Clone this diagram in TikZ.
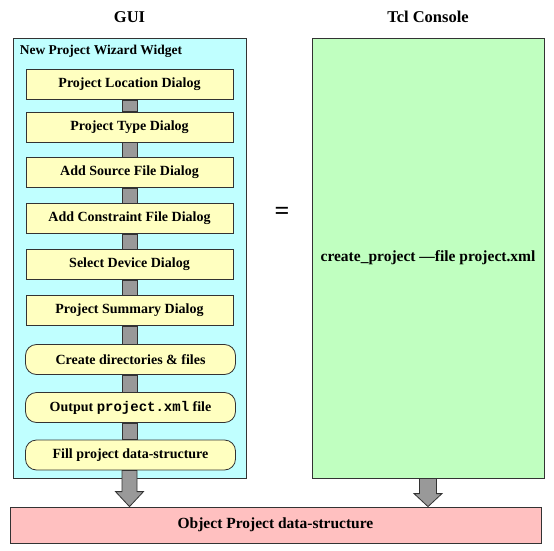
\documentclass[tikz,border=0pt]{standalone}
\usepackage{fontspec}
\setmainfont{Liberation Serif}
\setmonofont{Liberation Mono}
\usetikzlibrary{calc}

\definecolor{wizard}{HTML}{C0FFFF}
\definecolor{console}{HTML}{C0FFC0}
\definecolor{dialogfill}{HTML}{FFFFC0}
\definecolor{objfill}{HTML}{FFC0C0}
\definecolor{barfill}{HTML}{999999}

\begin{document}
\begin{tikzpicture}[x=1pt, y=-1pt,
	frame/.style={draw=black!80, line width=0.8pt, inner sep=0pt},
	dialog/.style={frame, fill=dialogfill, minimum width=207pt, minimum height=30pt, font=\bfseries\fontsize{14}{16}\selectfont},
	action/.style={dialog, rounded corners=11pt, minimum width=210pt},
	link/.style={draw=black!80, line width=0.8pt, fill=barfill},
	title/.style={font=\bfseries\fontsize{16.5}{18}\selectfont},
	label/.style={font=\bfseries\fontsize{15.5}{18}\selectfont}]
	\useasboundingbox (0,0) rectangle (554,551);

	% titles
	\node[title] (gui) at (129.5,17) {GUI};
	\node[title] (tcl) at (428,17) {Tcl Console};

	% containers
	\node[frame, fill=wizard, minimum width=233pt, minimum height=440pt] (widget) at (129.5,258) {};
	\node[frame, fill=console, minimum width=232pt, minimum height=440pt] (cons) at (428,258) {};
	\node[frame, fill=objfill, minimum width=531pt, minimum height=36pt] (obj) at (275.5,525) {};
	\node[anchor=north west, font=\bfseries\fontsize{13.5}{15}\selectfont, inner sep=0pt] (wtitle) at ($(widget.north west)+(7,7)$) {New Project Wizard Widget};

	% wizard steps
	\node[dialog] (loc)  at (129.5,84.5)  {Project Location Dialog};
	\node[dialog] (type) at (129.5,127)   {Project Type Dialog};
	\node[dialog] (src)  at (129.5,172.5) {Add Source File Dialog};
	\node[dialog] (cstr) at (129.5,218.5) {Add Constraint File Dialog};
	\node[dialog] (dev)  at (129.5,264.5) {Select Device Dialog};
	\node[dialog] (sum)  at (129.5,310.5) {Project Summary Dialog};
	\node[action] (mkdir) at (130.5,359.5) {Create directories \& files};
	\node[action] (xml)   at (130.5,407.5) {Output \texttt{project.xml} file};
	\node[action] (fill)  at (130.5,455)   {Fill project data-structure};

	\foreach \a/\b in {loc/type, type/src, src/cstr, cstr/dev, dev/sum, sum/mkdir, mkdir/xml, xml/fill}
		\filldraw[link] ($(\a.south -| loc.south)+(-7.5,0)$) rectangle ($(\b.north -| loc.south)+(7.5,0)$);

	% arrows into the data-structure
	\filldraw[link] ($(fill.south -| loc.south)+(-7.5,0)$) -- ($(loc.south |- obj.north)+(-7.5,-15)$) -- ++(-6.5,0)
		-- (loc.south |- obj.north) -- ($(loc.south |- obj.north)+(14,-15)$) -- ++(-6.5,0)
		-- ($(fill.south -| loc.south)+(7.5,0)$) -- cycle;
	\filldraw[link] ($(cons.south)+(-8.5,0)$) -- ($(cons.south |- obj.north)+(-8.5,-13)$) -- ++(-5.5,0)
		-- (cons.south |- obj.north) -- ($(cons.south |- obj.north)+(14,-13)$) -- ++(-5.5,0)
		-- ($(cons.south)+(8.5,0)$) -- cycle;

	% texts
	\node[label] (cmd) at (428,258) {create\_project ---file project.xml};
	\node[label] (objtext) at (obj.center) {Object Project data-structure};
	\node[font=\bfseries\fontsize{26}{28}\selectfont] (eq) at (282,213) {=};
\end{tikzpicture}
\end{document}
